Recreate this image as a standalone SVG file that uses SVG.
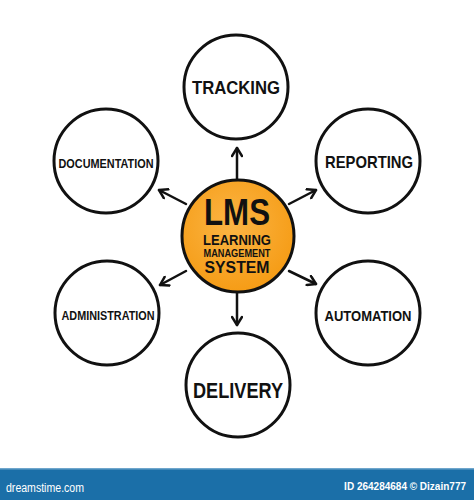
<svg xmlns="http://www.w3.org/2000/svg" width="474" height="500" viewBox="0 0 474 500">
  <style>
    .node { fill: #ffffff; stroke: #111111; stroke-width: 3; }
    .label { font-family: "Liberation Sans", Arial, sans-serif; font-weight: bold; fill: #111111; text-anchor: middle; }
    .conn { stroke: #111111; stroke-width: 2.5; fill: none; stroke-linecap: round; marker-end: url(#arrow); }
    .bar-text { font-family: "Liberation Sans", Arial, sans-serif; fill: #ffffff; }
  </style>
  <defs>
    <marker id="arrow" viewBox="0 0 12 12" refX="10" refY="6" markerWidth="12" markerHeight="12" markerUnits="userSpaceOnUse" orient="auto">
      <path d="M2,1 L10,6 L2,11" fill="none" stroke="#111111" stroke-width="2.5" stroke-linecap="round" stroke-linejoin="round"/>
    </marker>
    <radialGradient id="orange" cx="0.45" cy="0.4" r="0.65">
      <stop offset="0" stop-color="#fbb545"/>
      <stop offset="1" stop-color="#f59a12"/>
    </radialGradient>
  </defs>
  <rect width="474" height="500" fill="#ffffff"/>

  <g id="connectors">
    <line class="conn" x1="237" y1="180" x2="237" y2="148"/>
    <line class="conn" x1="237" y1="293" x2="237" y2="325"/>
    <line class="conn" x1="186" y1="204" x2="159" y2="190"/>
    <line class="conn" x1="289" y1="204" x2="316" y2="190"/>
    <line class="conn" x1="186" y1="271" x2="160" y2="285"/>
    <line class="conn" x1="289" y1="271" x2="316" y2="284"/>
  </g>

  <g id="lms">
    <circle cx="238" cy="236" r="56" fill="url(#orange)" stroke="#111111" stroke-width="3"/>
    <text class="label" x="237" y="225" font-size="36" textLength="66" lengthAdjust="spacingAndGlyphs">LMS</text>
    <text class="label" x="237" y="245" font-size="14" textLength="68" lengthAdjust="spacingAndGlyphs">LEARNING</text>
    <text class="label" x="237" y="257" font-size="10" textLength="67" lengthAdjust="spacingAndGlyphs">MANAGEMENT</text>
    <text class="label" x="237" y="273" font-size="16" textLength="65" lengthAdjust="spacingAndGlyphs">SYSTEM</text>
  </g>

  <g id="tracking">
    <circle class="node" cx="236" cy="87" r="52"/>
    <text class="label" x="236" y="94" font-size="18" textLength="88" lengthAdjust="spacingAndGlyphs">TRACKING</text>
  </g>

  <g id="documentation">
    <circle class="node" cx="106" cy="161" r="52"/>
    <text class="label" x="106" y="168" font-size="12.5" textLength="95" lengthAdjust="spacingAndGlyphs">DOCUMENTATION</text>
  </g>

  <g id="reporting">
    <circle class="node" cx="368" cy="161" r="52"/>
    <text class="label" x="369" y="168" font-size="17" textLength="88" lengthAdjust="spacingAndGlyphs">REPORTING</text>
  </g>

  <g id="administration">
    <circle class="node" cx="107" cy="313" r="52"/>
    <text class="label" x="108" y="320" font-size="13" textLength="93" lengthAdjust="spacingAndGlyphs">ADMINISTRATION</text>
  </g>

  <g id="automation">
    <circle class="node" cx="368" cy="313" r="52"/>
    <text class="label" x="368" y="321" font-size="14.5" textLength="87" lengthAdjust="spacingAndGlyphs">AUTOMATION</text>
  </g>

  <g id="delivery">
    <circle class="node" cx="238" cy="385" r="52"/>
    <text class="label" x="238" y="398" font-size="22" textLength="90" lengthAdjust="spacingAndGlyphs">DELIVERY</text>
  </g>

  <g id="footer">
    <rect x="0" y="468" width="474" height="32" fill="#1b6fa8"/>
    <rect x="0" y="468" width="474" height="1.5" fill="#6fa6cc"/>
    <text class="bar-text" x="6" y="492" font-size="12" textLength="78" lengthAdjust="spacingAndGlyphs">dreamstime.com</text>
    <text class="bar-text" x="466" y="490" font-size="10" font-weight="bold" text-anchor="end">ID 264284684 © Dizain777</text>
  </g>
</svg>
